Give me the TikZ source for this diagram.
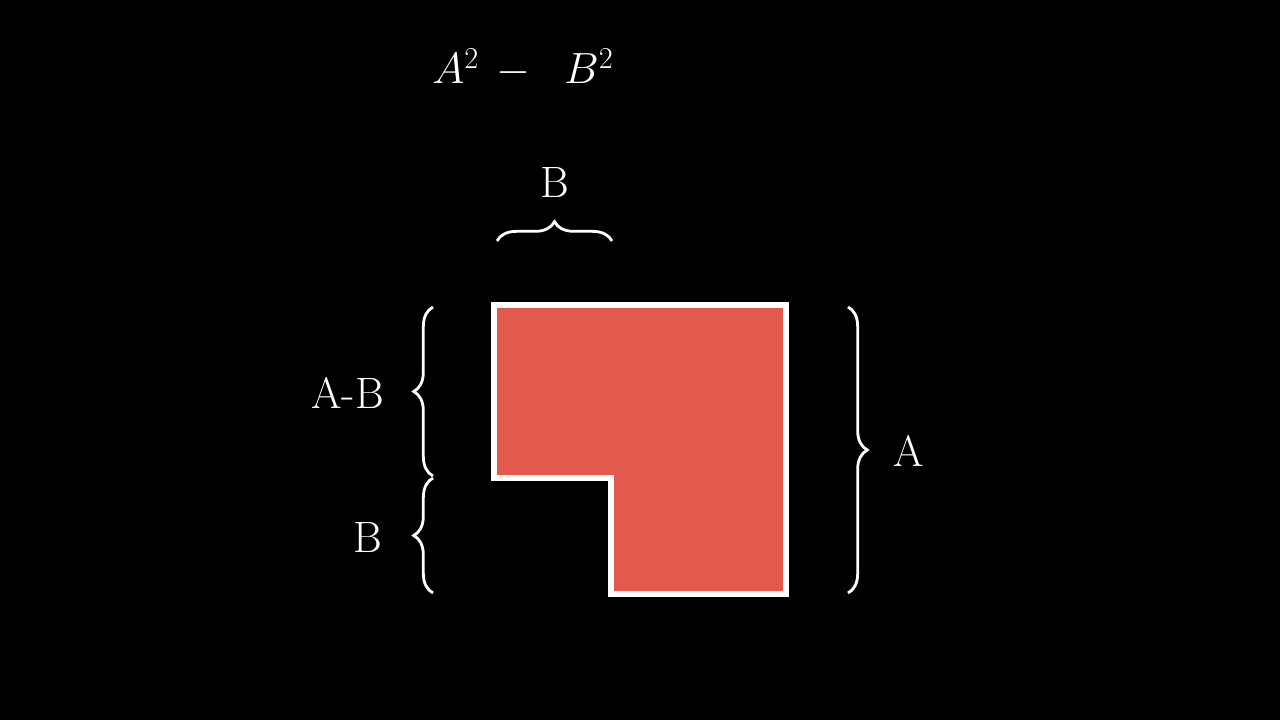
\documentclass[tikz,border=0pt]{standalone}
\usetikzlibrary{decorations.pathreplacing}
\begin{document}
\begin{tikzpicture}[x=0.02cm,y=-0.02cm,
  lbl/.style={text=white,font=\fontsize{25}{30}\selectfont},
  br/.style={draw=white,line width=1.6pt,decorate,decoration={brace,amplitude=11pt}}]
\definecolor{lred}{HTML}{E15A4D}
\fill[black] (0,0) rectangle (1280,720);
\useasboundingbox (0,0) rectangle (1280,720);
\draw[fill=lred,draw=white,line width=3.2pt]
  (494,305) -- (786,305) -- (786,594) -- (611,594) -- (611,478) -- (494,478) -- cycle;
\node[lbl] (t) at (523,68) {$A^2\,-\;\;B^2$};
\coordinate (tl) at (497,241); \coordinate (tr) at (612,241);
\draw[br] (tl) -- (tr);
\node[lbl] (lb) at (555,182) {B};
\coordinate (l1) at (433,476); \coordinate (l2) at (433,307);
\draw[br] (l1) -- (l2);
\node[lbl,anchor=east] (lab) at (390,393) {A-B};
\coordinate (l3) at (433,593); \coordinate (l4) at (433,478);
\draw[br] (l3) -- (l4);
\node[lbl,anchor=east] (lb2) at (388,537) {B};
\coordinate (r1) at (848,307); \coordinate (r2) at (848,593);
\draw[br] (r1) -- (r2);
\node[lbl] (la) at (909,451) {A};
\end{tikzpicture}
\end{document}
